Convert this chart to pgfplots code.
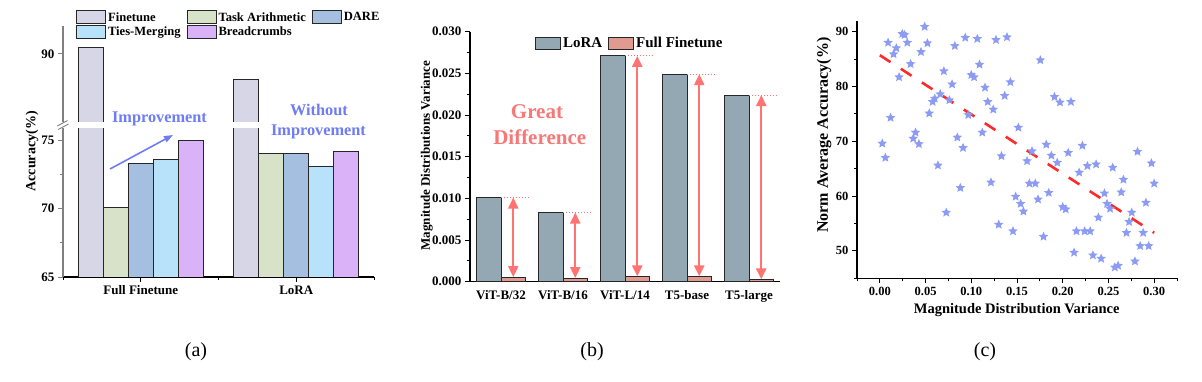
\documentclass[border=0pt]{standalone}
\usepackage{fontspec}
\setmainfont{Liberation Serif}
\usepackage{pgfplots}
\pgfplotsset{compat=1.18}
\usetikzlibrary{arrows.meta}

\definecolor{cFT}{HTML}{D6D6E6}
\definecolor{cTA}{HTML}{D8E2C8}
\definecolor{cDA}{HTML}{A4BFE0}
\definecolor{cTI}{HTML}{B8E2FA}
\definecolor{cBC}{HTML}{D9B2F7}
\definecolor{cLo}{HTML}{93A8B3}
\definecolor{cFF}{HTML}{E19A8F}
\definecolor{cAr}{HTML}{FF7373}
\definecolor{cImp}{HTML}{6E7CF5}
\definecolor{cStar}{HTML}{8C9CF5}
\definecolor{cLine}{HTML}{FF2A2A}
\definecolor{cGreat}{HTML}{F87878}

\newcommand\fs[1]{\fontsize{#1}{#1}\selectfont}

\pgfdeclareplotmark{fstar}{%
  \pgfpathmoveto{\pgfpointpolar{90}{\pgfplotmarksize}}%
  \pgfpathlineto{\pgfpointpolar{126}{0.46\pgfplotmarksize}}%
  \pgfpathlineto{\pgfpointpolar{162}{\pgfplotmarksize}}%
  \pgfpathlineto{\pgfpointpolar{198}{0.46\pgfplotmarksize}}%
  \pgfpathlineto{\pgfpointpolar{234}{\pgfplotmarksize}}%
  \pgfpathlineto{\pgfpointpolar{270}{0.46\pgfplotmarksize}}%
  \pgfpathlineto{\pgfpointpolar{306}{\pgfplotmarksize}}%
  \pgfpathlineto{\pgfpointpolar{342}{0.46\pgfplotmarksize}}%
  \pgfpathlineto{\pgfpointpolar{18}{\pgfplotmarksize}}%
  \pgfpathlineto{\pgfpointpolar{54}{0.46\pgfplotmarksize}}%
  \pgfpathclose\pgfusepathqfill}

\pgfplotsset{
  base/.style={scale only axis, anchor=south west, axis lines*=left,
    tick align=outside, major tick length=5pt, minor tick length=3pt,
    axis line style={line width=1.1pt},
    every tick/.style={black, line width=0.9pt},
    tick label style={font=\bfseries\fs{13}},
    /pgf/number format/assume math mode=true,
    label style={font=\bfseries\fs{13}}},
  mybar/.style={fill=#1, draw=black!85, line width=0.9pt,
    legend image code/.code={\draw[##1] (0pt,-6.5pt) rectangle (29pt,6.5pt);}},
  mybarb/.style={fill=#1, draw=black!85, line width=0.9pt,
    legend image code/.code={\draw[##1] (0pt,-6pt) rectangle (25pt,6pt);}},
}

\begin{document}
\begin{tikzpicture}[x=1pt,y=1pt]
\path[use as bounding box, fill=white] (0pt,0pt) rectangle (1202pt,382pt);

% ---------------- (a) ----------------
\begin{axis}[base, at={(63pt,105pt)}, width=311pt, height=251.3pt,
  xmin=-0.5, xmax=1.5, ymin=65, ymax=83.36,
  ybar=0pt, bar width=25pt,
  xtick={0,1}, xticklabels={Full Finetune,LoRA}, minor xtick={-0.5,0.5,1.5},
  ytick={65,70,75,81.3}, yticklabels={65,70,75,90}, minor ytick={67.5,72.5},
  y axis line style={gray},
  ytick style={gray},
  ylabel={Accuracy(\%)},
  ylabel style={font=\bfseries\fs{14}, at={(axis description cs:-0.0997,0.5)}, anchor=center},
  legend columns=3,
  legend style={at={(0.032,1.07)}, anchor=north west, draw=none, fill=none,
    font=\bfseries\fs{12.6}, /tikz/every even column/.append style={column sep=4pt}},
  legend cell align=left,
  y filter/.expression={y>80 ? y-8.7 : y},
]
\addplot[mybar=cFT] coordinates {(0,90.5) (1,88.1)};
\addplot[mybar=cTA] coordinates {(0,70.1) (1,74.05)};
\addplot[mybar=cDA] coordinates {(0,73.3) (1,74.05)};
\addplot[mybar=cTI] coordinates {(0,73.6) (1,73.1)};
\addplot[mybar=cBC] coordinates {(0,75.0) (1,74.2)};
\legend{Finetune,Task Arithmetic,DARE,Ties-Merging,Breadcrumbs}
\end{axis}
\fill[white] (61pt,253.7pt) rectangle (375pt,260.3pt);
\draw[gray, line width=0.9pt] (57.3pt,256pt) -- (67.5pt,261.5pt);
\draw[gray, line width=0.9pt] (58.3pt,252.5pt) -- (68.5pt,258pt);
\draw[cImp, line width=1.6pt, -{Triangle[length=9pt,width=6.5pt]}] (110pt,213pt) -- (173pt,247pt);
\node[font=\bfseries\fs{16.3}, text=cImp] at (159.5pt,263pt) {Improvement};
\node[font=\bfseries\fs{16.3}, text=cImp] at (319pt,272pt) {Without};
\node[font=\bfseries\fs{16.3}, text=cImp] at (318.5pt,250pt) {Improvement};

% ---------------- (b) ----------------
\begin{axis}[base, at={(470pt,100.3pt)}, width=310pt, height=250pt,
  xmin=-0.5, xmax=4.5, ymin=0, ymax=0.03,
  ybar=0pt, bar width=24.5pt,
  xtick={0,1,2,3,4}, xticklabels={ViT-B/32,ViT-B/16,ViT-L/14,T5-base,T5-large},
  xtick style={draw=none},
  ytick={0,0.005,0.01,0.015,0.02,0.025,0.03}, minor y tick num=1,
  scaled y ticks=false,
  yticklabel style={/pgf/number format/.cd, fixed, fixed zerofill, precision=3},
  ylabel={Magnitude Distributions Variance},
  ylabel style={at={(axis description cs:-0.139,0.504)}, anchor=center},
  legend columns=2,
  legend style={at={(0.2,0.995)}, anchor=north west, draw=none, fill=none,
    font=\bfseries\fs{15}, /tikz/every even column/.append style={column sep=4pt}},
  legend cell align=left,
]
\addplot[mybarb=cLo] coordinates {(0,0.0101) (1,0.0083) (2,0.0271) (3,0.0249) (4,0.0224)};
\addplot[mybarb=cFF] coordinates {(0,0.00056) (1,0.00044) (2,0.00064) (3,0.00064) (4,0.00028)};
\legend{LoRA,Full Finetune}
\draw[cAr, dotted, line width=1pt] (axis cs:0,0.0101) -- ([xshift=29pt]axis cs:0,0.0101);
\draw[cAr, dotted, line width=1pt] (axis cs:1,0.0083) -- ([xshift=29pt]axis cs:1,0.0083);
\draw[cAr, dotted, line width=1pt] (axis cs:2,0.0271) -- ([xshift=29pt]axis cs:2,0.0271);
\draw[cAr, dotted, line width=1pt] (axis cs:3,0.0249) -- ([xshift=29pt]axis cs:3,0.0249);
\draw[cAr, dotted, line width=1pt] (axis cs:4,0.0224) -- ([xshift=29pt]axis cs:4,0.0224);
\tikzset{arr/.style={cAr, line width=2.2pt, {Triangle[length=11pt,width=10pt]}-{Triangle[length=11pt,width=10pt]}}}
\draw[arr] ([xshift=12.25pt]axis cs:0,0.0101) -- ([xshift=12.25pt]axis cs:0,0.00056);
\draw[arr] ([xshift=12.25pt]axis cs:1,0.0083) -- ([xshift=12.25pt]axis cs:1,0.00044);
\draw[arr] ([xshift=12.25pt]axis cs:2,0.0271) -- ([xshift=12.25pt]axis cs:2,0.00064);
\draw[arr] ([xshift=12.25pt]axis cs:3,0.0249) -- ([xshift=12.25pt]axis cs:3,0.00064);
\draw[arr] ([xshift=12.25pt]axis cs:4,0.0224) -- ([xshift=12.25pt]axis cs:4,0.00028);
\end{axis}
\node[font=\bfseries\fs{21}, text=cGreat] at (537pt,270.3pt) {Great};
\node[font=\bfseries\fs{21}, text=cGreat] at (539.7pt,245pt) {Difference};

% ---------------- (c) ----------------
\begin{axis}[base, at={(857pt,103.7pt)}, width=320pt, height=257.6pt,
  xmin=-0.025, xmax=0.325, ymin=45, ymax=92,
  xtick={0,0.05,0.1,0.15,0.2,0.25,0.3},
  minor xtick={-0.025,0.025,0.075,0.125,0.175,0.225,0.275,0.325},
  ytick={50,60,70,80,90}, minor ytick={45,55,65,75,85},
  scaled x ticks=false,
  xticklabel style={/pgf/number format/.cd, fixed, fixed zerofill, precision=2},
  tick label style={font=\bfseries\fs{12.5}},
  xlabel={Magnitude Distribution Variance},
  xlabel style={font=\bfseries\fs{14.5}, at={(axis description cs:0.499,-0.123)}, anchor=center},
  ylabel={Norm Average Accuracy(\%)},
  ylabel style={font=\bfseries\fs{16}, at={(axis description cs:-0.103,0.556)}, anchor=center},
]
\addplot[only marks, mark=fstar, mark size=5pt, color=cStar] table {
x y
0.0026 69.6
0.006 67.0
0.009 88.0
0.0117 74.3
0.015 85.9
0.018 87.0
0.021 81.7
0.0245 89.6
0.027 89.4
0.030 88.0
0.0336 84.1
0.0365 70.5
0.039 71.6
0.0427 69.5
0.045 86.3
0.049 90.9
0.052 87.9
0.054 75.1
0.0577 77.2
0.060 77.8
0.0635 65.6
0.066 78.6
0.070 82.8
0.0726 57.0
0.076 77.5
0.079 80.4
0.082 87.4
0.0847 70.7
0.088 61.5
0.091 68.8
0.0934 88.9
0.0967 74.8
0.100 82.1
0.103 81.7
0.1066 88.7
0.109 84.0
0.112 71.6
0.115 79.8
0.118 77.2
0.1215 62.5
0.124 75.8
0.127 88.5
0.130 54.8
0.133 67.3
0.1365 78.3
0.139 89.0
0.1427 80.8
0.1456 53.6
0.1485 59.9
0.1515 72.5
0.154 58.6
0.157 57.2
0.161 66.4
0.1635 62.3
0.1664 68.2
0.170 62.3
0.173 59.4
0.1755 84.8
0.179 52.6
0.182 69.4
0.1847 60.6
0.1876 67.4
0.191 78.1
0.194 66.1
0.197 77.1
0.200 58.0
0.2033 57.6
0.206 67.9
0.209 77.2
0.2124 49.7
0.215 53.6
0.218 64.3
0.2215 69.2
0.224 53.6
0.227 65.5
0.230 53.6
0.233 49.2
0.2365 65.8
0.239 56.1
0.242 48.6
0.2456 60.5
0.2485 58.6
0.2518 57.7
0.2547 65.2
0.257 47.0
0.2606 47.3
0.264 60.7
0.2664 63.0
0.2697 53.3
0.2726 55.3
0.2755 57.0
0.279 48.1
0.2818 68.1
0.2847 50.9
0.288 53.3
0.291 58.8
0.294 50.9
0.297 66.0
0.300 62.3
};
\addplot[cLine, line width=2.6pt, dash pattern=on 12.7pt off 12.3pt] coordinates {(0,85.7) (0.3,53.3)};
\end{axis}

% captions
\node[font=\fs{20}] at (196pt,30pt) {(a)};
\node[font=\fs{20}] at (592pt,30pt) {(b)};
\node[font=\fs{20}] at (985pt,30pt) {(c)};
\end{tikzpicture}
\end{document}
